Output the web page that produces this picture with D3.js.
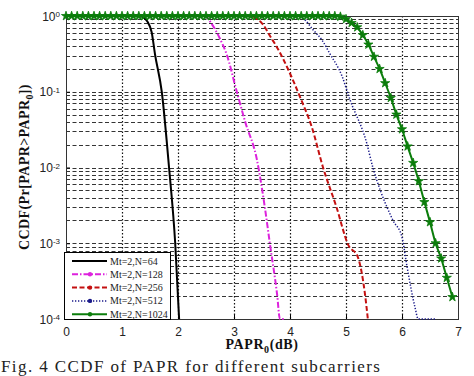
<!DOCTYPE html>
<html>
<head>
<meta charset="utf-8">
<script src="https://cdn.jsdelivr.net/npm/d3@7"></script>
<style>
  body { margin: 0; background: #fff; }
  svg { display: block; }
</style>
</head>
<body>
<script>
// values
var legendLabels = ['Mt=2,N=64', 'Mt=2,N=128', 'Mt=2,N=256', 'Mt=2,N=512', 'Mt=2,N=1024'];
var xTicks = [0, 1, 2, 3, 4, 5, 6, 7];
var yTicks = [1e-4, 1e-3, 1e-2, 1e-1, 1];
var yTickExp = ['-4', '-3', '-2', '-1', '0'];

var paprN64 = [0, 1.3, 1.38, 1.45, 1.53, 1.59, 1.71, 1.84, 1.95, 2.02];
var ccdfN64 = [1, 1, 0.96, 0.85, 0.61, 0.31, 0.1, 0.01, 0.001, 0.0001];

var paprN128 = [0, 2.48, 2.6, 2.75, 2.87, 3.05, 3.2, 3.41, 3.55, 3.64, 3.77, 3.82, 3.9];
var ccdfN128 = [1, 1, 0.79, 0.5, 0.31, 0.1, 0.04, 0.0126, 0.003, 0.001, 0.00021, 0.0001, 0.0001];

var paprN256 = [0, 3.25, 3.5, 3.64, 3.8, 3.97, 4.18, 4.39, 4.59, 4.83, 5.04, 5.21, 5.34, 5.39];
var ccdfN256 = [1, 1, 0.8, 0.55, 0.35, 0.195, 0.085, 0.034, 0.01, 0.003, 0.00095, 0.00066, 0.00021, 0.0001];

var paprN512 = [0, 4.1, 4.25, 4.41, 4.58, 4.71, 4.93, 5.07, 5.37, 5.48, 5.55, 5.84, 6.0, 6.09, 6.23, 6.29, 6.6];
var ccdfN512 = [1, 1, 0.91, 0.66, 0.47, 0.32, 0.16, 0.079, 0.021, 0.01, 0.0068, 0.002, 0.0012, 0.00049, 0.000145, 0.0001, 0.0001];

var paprN1024 = [0, 0.1, 0.2, 0.3, 0.4, 0.5, 0.6, 0.7, 0.8, 0.9,
                 1.0, 1.1, 1.2, 1.3, 1.4, 1.5, 1.6, 1.7, 1.8, 1.9,
                 2.0, 2.1, 2.2, 2.3, 2.4, 2.5, 2.6, 2.7, 2.8, 2.9,
                 3.0, 3.1, 3.2, 3.3, 3.4, 3.5, 3.6, 3.7, 3.8, 3.9,
                 4.0, 4.1, 4.2, 4.3, 4.4, 4.5, 4.6, 4.7, 4.8, 4.9,
                 5.0, 5.1, 5.2, 5.3, 5.4, 5.5, 5.6, 5.7, 5.8, 5.9,
                 6.0, 6.1, 6.2, 6.3, 6.4, 6.5, 6.6, 6.7, 6.8, 6.9];
var ccdfN1024 = [1, 1, 1, 1, 1, 1, 1, 1, 1, 1,
                 1, 1, 1, 1, 1, 1, 1, 1, 1, 1,
                 1, 1, 1, 1, 1, 1, 1, 1, 1, 1,
                 1, 1, 1, 1, 1, 1, 1, 1, 1, 1,
                 1, 1, 1, 1, 1, 1, 1, 1, 1, 0.98,
                 0.91, 0.81, 0.71, 0.56, 0.42, 0.29, 0.2, 0.13, 0.083, 0.05,
                 0.032, 0.019, 0.0115, 0.0066, 0.0035, 0.0019, 0.001, 0.00063, 0.00035, 0.000195];

var W = 474, H = 376;

var svg = d3.select('body').append('svg')
    .attr('width', W)
    .attr('height', H);

var x = d3.scaleLinear().domain([0, 7]).range([66, 458]);
var y = d3.scaleLog().domain([1e-4, 1]).range([319, 16]);

// minor grid positions for the log axis
var yGrid = [];
[-4, -3, -2, -1].forEach(function (k) {
    for (var m = 1; m <= 9; m++) yGrid.push(m * Math.pow(10, k));
});
yGrid.push(1);

var grid = svg.append('g');
grid.selectAll('line.h').data(yGrid).enter().append('line')
    .attr('class', 'h')
    .attr('x1', x(0)).attr('x2', x(7))
    .attr('y1', function (d) { return Math.round(y(d)) + 0.5; })
    .attr('y2', function (d) { return Math.round(y(d)) + 0.5; })
    .attr('stroke', '#111')
    .attr('stroke-width', 1)
    .attr('stroke-dasharray', '4,2.5')
    .attr('opacity', 0.85);
grid.selectAll('line.v').data(xTicks.slice(1, -1)).enter().append('line')
    .attr('class', 'v')
    .attr('x1', function (d) { return Math.round(x(d)) + 0.5; })
    .attr('x2', function (d) { return Math.round(x(d)) + 0.5; })
    .attr('y1', y(1)).attr('y2', y(1e-4))
    .attr('stroke', '#111')
    .attr('stroke-width', 1.2)
    .attr('stroke-dasharray', '1.5,2');

// axes, ticks pointing inward like matlab
var xAxis = d3.axisBottom(x).tickValues(xTicks).tickFormat(d3.format('d'))
    .tickSizeInner(-4).tickSizeOuter(0).tickPadding(8);
var gx = svg.append('g')
    .attr('transform', 'translate(0,319)')
    .call(xAxis);
gx.selectAll('text')
    .attr('font-family', '"Liberation Sans", Arial, sans-serif')
    .attr('font-size', 12)
    .attr('fill', '#222');

var yAxis = d3.axisLeft(y).tickValues(yTicks).tickSizeInner(-4).tickSizeOuter(0).tickPadding(8)
    .tickFormat(function () { return ''; });
var gy = svg.append('g')
    .attr('transform', 'translate(66,0)')
    .call(yAxis);
gy.selectAll('.tick text').each(function (d, i) {
    var t = d3.select(this)
        .attr('font-family', '"Liberation Sans", Arial, sans-serif')
        .attr('font-size', 12)
        .attr('fill', '#222')
        .attr('x', -6)
        .attr('dy', '0.35em');
    t.append('tspan').text('10');
    t.append('tspan').attr('dy', '-0.45em').attr('font-size', 8).text(yTickExp[i]);
});
svg.selectAll('.domain').remove();

// box
svg.append('rect')
    .attr('x', x(0) + 0.5).attr('y', y(1) + 0.5)
    .attr('width', x(7) - x(0)).attr('height', y(1e-4) - y(1))
    .attr('fill', 'none')
    .attr('stroke', '#333')
    .attr('stroke-width', 1);

var series = [
    { px: paprN64,   py: ccdfN64,   color: '#000000', dash: null,        width: 2 },
    { px: paprN128,  py: ccdfN128,  color: '#dd22dd', dash: '6,2,1.5,2', width: 2 },
    { px: paprN256,  py: ccdfN256,  color: '#c41010', dash: '5,2.5',     width: 2 },
    { px: paprN512,  py: ccdfN512,  color: '#1a1a8a', dash: '1.3,1.7',   width: 1.5 },
    { px: paprN1024, py: ccdfN1024, color: '#0b7d0b', dash: null,        width: 2 }
];

var line = d3.line()
    .curve(d3.curveMonotoneX)
    .x(function (d) { return x(d[0]); })
    .y(function (d) { return y(d[1]); });

series.forEach(function (s) {
    var pts = d3.zip(s.px, s.py);
    svg.append('path')
        .datum(pts)
        .attr('d', line)
        .attr('fill', 'none')
        .attr('stroke', s.color)
        .attr('stroke-width', s.width)
        .attr('stroke-dasharray', s.dash);
});

// star markers on the N=1024 curve
var star = d3.symbol().type(d3.symbolStar).size(26);
svg.append('g').selectAll('path')
    .data(d3.zip(paprN1024, ccdfN1024))
    .enter().append('path')
    .attr('d', star)
    .attr('transform', function (d) { return 'translate(' + x(d[0]) + ',' + y(d[1]) + ')'; })
    .attr('fill', '#0b7d0b')
    .attr('stroke', '#0b7d0b')
    .attr('stroke-width', 0.8);

// legend
var lg = svg.append('g').attr('transform', 'translate(64,252)');
lg.append('rect')
    .attr('x', 0.5).attr('y', 0.5)
    .attr('width', 106).attr('height', 67)
    .attr('fill', '#fff')
    .attr('stroke', '#000')
    .attr('stroke-width', 1);
var rows = lg.selectAll('g.row').data(series).enter().append('g')
    .attr('class', 'row')
    .attr('transform', function (d, i) { return 'translate(0,' + (9 + i * 13.3) + ')'; });
rows.append('line')
    .attr('x1', 8).attr('x2', 43)
    .attr('stroke', function (d) { return d.color; })
    .attr('stroke-width', function (d) { return d.width; })
    .attr('stroke-dasharray', function (d) { return d.dash; });
rows.filter(function (d, i) { return i > 0; }).append('circle')
    .attr('cx', 26).attr('r', 2.2)
    .attr('fill', function (d) { return d.color; });
rows.append('text')
    .attr('x', 46)
    .attr('dy', '0.35em')
    .attr('font-family', '"Liberation Serif", "Times New Roman", serif')
    .attr('font-size', 10)
    .attr('fill', '#222')
    .text(function (d, i) { return legendLabels[i]; });

// axis titles
var xl = svg.append('text')
    .attr('x', 262).attr('y', 349)
    .attr('text-anchor', 'middle')
    .attr('font-family', '"Liberation Serif", "Times New Roman", serif')
    .attr('font-weight', 'bold')
    .attr('font-size', 14)
    .attr('letter-spacing', 0.6)
    .attr('fill', '#111');
xl.append('tspan').text('PAPR');
xl.append('tspan').attr('dy', 4).attr('font-size', 10).text('0');
xl.append('tspan').attr('dy', -4).text('(dB)');

var yl = svg.append('text')
    .attr('transform', 'translate(29,167) rotate(-90)')
    .attr('text-anchor', 'middle')
    .attr('font-family', '"Liberation Serif", "Times New Roman", serif')
    .attr('font-weight', 'bold')
    .attr('font-size', 14)
    .attr('letter-spacing', 0.4)
    .attr('fill', '#111');
yl.append('tspan').text('CCDF(Pr[PAPR>PAPR');
yl.append('tspan').attr('dy', 4).attr('font-size', 10).text('0');
yl.append('tspan').attr('dy', -4).text('])');

// caption at the bottom edge
svg.append('text')
    .attr('x', 1).attr('y', 372)
    .attr('font-family', '"Liberation Serif", "Times New Roman", serif')
    .attr('font-size', 17)
    .attr('letter-spacing', 1.4)
    .attr('fill', '#222')
    .text('Fig. 4 CCDF of PAPR for different subcarriers');
</script>
</body>
</html>
